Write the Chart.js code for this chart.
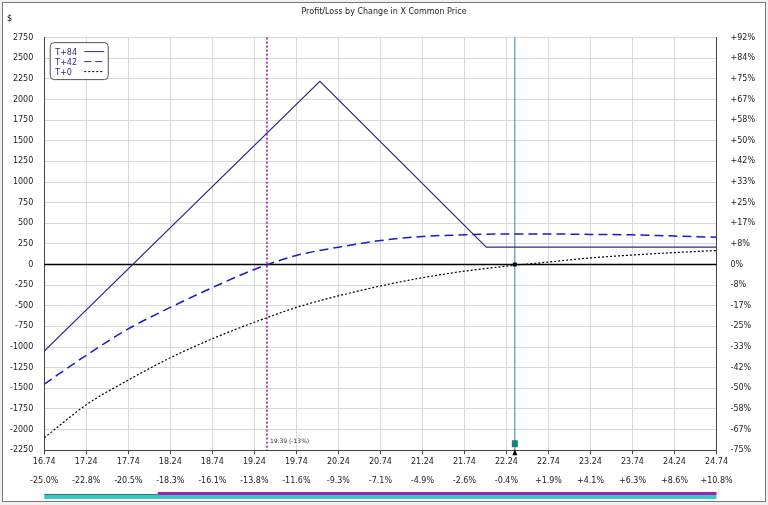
<!DOCTYPE html>
<html><head><meta charset="utf-8">
<script src="https://cdn.jsdelivr.net/npm/chart.js@4"></script>
<style>
body{margin:0;background:#f0f0f0;}
#wrap{position:absolute;left:2px;top:2px;width:762px;height:498px;border:1px solid #777;background:#fff;}
</style></head><body>
<div id="wrap"><canvas id="c" width="762" height="498"></canvas></div>
<script>
const prices = [16.74,17.24,17.74,18.24,18.74,19.24,19.74,20.24,20.74,21.24,21.74,22.24,22.74,23.24,23.74,24.24,24.74];
const pctLabels = ['-25.0%','-22.8%','-20.5%','-18.3%','-16.1%','-13.8%','-11.6%','-9.3%','-7.1%','-4.9%','-2.6%','-0.4%','+1.9%','+4.1%','+6.3%','+8.6%','+10.8%'];
const t84 = [{x:16.74,y:-1050},{x:20.02,y:2220},{x:22.0,y:210},{x:24.74,y:210}];
const t42 = [-1450,-1100,-780,-520,-280,-60,110,210,290,340,360,370,370,365,360,345,330];
const t0 = [-2100,-1700,-1400,-1130,-900,-700,-520,-380,-260,-160,-80,-20,30,80,115,145,170];
const yTicks = [2750,2500,2250,2000,1750,1500,1250,1000,750,500,250,0,-250,-500,-750,-1000,-1250,-1500,-1750,-2000,-2250];
const rightLabels = ['+92%','+84%','+75%','+67%','+58%','+50%','+42%','+33%','+25%','+17%','+8%','0%','-8%','-17%','-25%','-33%','-42%','-50%','-58%','-67%','-75%'];
const breakEven = 19.39, breakLabel = '19.39 (-13%)';
const current = 22.34;

const F = 'Tahoma, "DejaVu Sans", sans-serif';
const overlay = {
  id:'overlay',
  beforeDatasetsDraw(ch){
    const {ctx, scales:{x,y}, chartArea:a} = ch;
    ctx.save();
    ctx.strokeStyle='#000'; ctx.lineWidth=1.5;
    ctx.beginPath(); ctx.moveTo(a.left,y.getPixelForValue(0)); ctx.lineTo(a.right,y.getPixelForValue(0)); ctx.stroke();
    const bx = x.getPixelForValue(breakEven);
    ctx.strokeStyle='#8b1a8b'; ctx.lineWidth=1.5; ctx.setLineDash([2,2]);
    ctx.beginPath(); ctx.moveTo(bx,a.top); ctx.lineTo(bx,a.bottom); ctx.stroke();
    ctx.setLineDash([]);
    ctx.fillStyle='#333'; ctx.font='6px '+F; ctx.fillText(breakLabel,bx+3,a.bottom-7);
    const cx = x.getPixelForValue(current);
    ctx.strokeStyle='#2a8c8c'; ctx.lineWidth=1;
    ctx.beginPath(); ctx.moveTo(cx,a.top); ctx.lineTo(cx,a.bottom); ctx.stroke();
    ctx.restore();
  },
  afterDatasetsDraw(ch){
    const {ctx, scales:{x,y}, chartArea:a} = ch;
    const cx = x.getPixelForValue(current);
    ctx.save();
    ctx.fillStyle='#1a7f7f'; ctx.fillRect(cx-3,a.bottom-10,6,7);
    ctx.fillStyle='#000';
    ctx.beginPath(); ctx.moveTo(cx-2.5,a.bottom+5); ctx.lineTo(cx+2.5,a.bottom+5); ctx.lineTo(cx,a.bottom-1); ctx.fill();
    ctx.fillRect(cx-2,y.getPixelForValue(0)-2,4,4);
    ctx.fillStyle='#fff'; ctx.strokeStyle='#555'; ctx.lineWidth=1;
    ctx.beginPath(); ctx.roundRect(a.left+6,a.top+5,58,37,4); ctx.fill(); ctx.stroke();
    ctx.font='8px '+F; ctx.fillStyle='#2a2a8a';
    const items=[['T+84',[]],['T+42',[7,4]],['T+0',[2,2]]];
    items.forEach((it,i)=>{
      const yy=a.top+14+i*10;
      ctx.fillText(it[0],a.left+11,yy+3);
      ctx.strokeStyle= i==2?'#000':'#2a2a8a'; ctx.setLineDash(it[1]);
      ctx.beginPath(); ctx.moveTo(a.left+40,yy); ctx.lineTo(a.left+60,yy); ctx.stroke();
    });
    ctx.setLineDash([]);
    const x0=x.getPixelForValue(16.74), x1=x.getPixelForValue(24.74), x2=x.getPixelForValue(18.09);
    ctx.fillStyle='#3cc6c6'; ctx.fillRect(x0,ch.height-6,x1-x0,4);
    ctx.fillStyle='#1a7f7f'; ctx.fillRect(x0,ch.height-7,x2-x0,1);
    ctx.fillStyle='#a020b0'; ctx.fillRect(x2,ch.height-9,x1-x2,3);
    ctx.fillStyle='#000'; ctx.font='8px '+F; ctx.fillText('$',4,a.top-17);
    ctx.restore();
  }
};

new Chart(document.getElementById('c'),{
  type:'line',
  data:{datasets:[
    {label:'T+84',data:t84,borderColor:'#2a2a8a',borderWidth:1.2,pointRadius:0,tension:0},
    {label:'T+42',data:prices.map((p,i)=>({x:p,y:t42[i]})),borderColor:'#1a1acc',borderWidth:1.5,borderDash:[9,5],pointRadius:0,cubicInterpolationMode:'monotone'},
    {label:'T+0',data:prices.map((p,i)=>({x:p,y:t0[i]})),borderColor:'#000',borderWidth:1.2,borderDash:[2,2],pointRadius:0,cubicInterpolationMode:'monotone'}
  ]},
  options:{
    responsive:false,animation:false,
    layout:{padding:{left:4,right:4,top:0,bottom:12}},
    plugins:{legend:{display:false},tooltip:{enabled:false},
      title:{display:true,text:'Profit/Loss by Change in X Common Price',color:'#222',font:{family:F,size:8,weight:'normal'},padding:{top:4,bottom:21}}},
    scales:{
      x:{type:'linear',min:16.74,max:24.74,
        afterBuildTicks:s=>{s.ticks=prices.map(v=>({value:v}));},
        grid:{color:'#d8d8d8',drawTicks:true,tickLength:4,tickColor:'#444'},border:{color:'#444'},
        ticks:{color:'#222',font:{family:F,size:8},maxRotation:0,autoSkip:false,
          callback:(v,i)=>[prices[i].toFixed(2),'',pctLabels[i]]}},
      y:{min:-2250,max:2750,
        afterBuildTicks:s=>{s.ticks=yTicks.map(v=>({value:v}));},
        grid:{color:'#d8d8d8',tickLength:8,tickColor:'#fff'},border:{color:'#444'},
        ticks:{color:'#222',font:{family:F,size:8},autoSkip:false,callback:v=>String(v)}},
      y2:{position:'right',min:-2250,max:2750,
        afterBuildTicks:s=>{s.ticks=yTicks.map(v=>({value:v}));},
        grid:{display:false},border:{color:'#444'},
        ticks:{color:'#222',font:{family:F,size:8},autoSkip:false,padding:6,
          callback:v=>rightLabels[yTicks.indexOf(v)]}}
    }
  },
  plugins:[overlay]
});
</script></body></html>
